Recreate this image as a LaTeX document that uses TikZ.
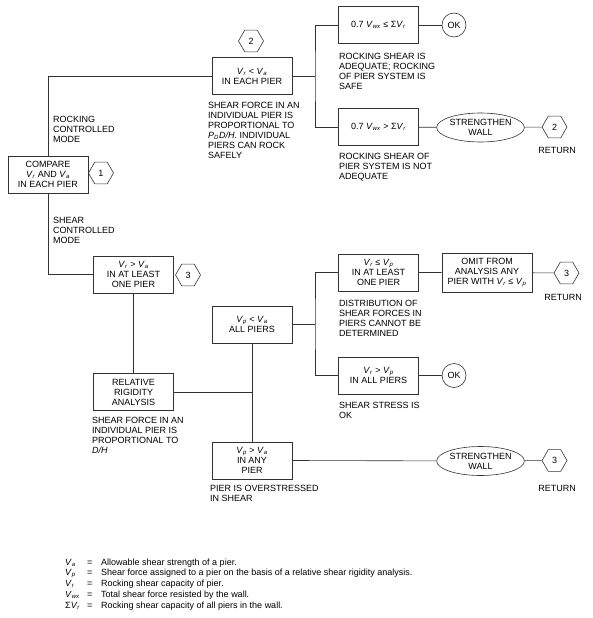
\documentclass[tikz,border=0pt]{standalone}
\usepackage{fontspec}
\setmainfont{Liberation Sans}
\usepackage{tikz}
\usetikzlibrary{shapes.geometric}
\newcommand{\Vs}[1]{\textit{V}\textsubscript{\textit{#1}}}
\begin{document}
\begin{tikzpicture}[x=1pt,y=-1pt,font=\fontsize{9}{10}\selectfont]
				    \tikzstyle{edge}=[draw,line width = .6pt,-,black!80]
				    \tikzstyle{box}=[draw,line width = .6pt,black!80,text=black,rectangle,align=center,minimum width=80pt,minimum height=37pt,inner sep=1pt]
				    \tikzstyle{hexa}=[draw,line width = .6pt,black!80,text=black,regular polygon,regular polygon sides=6,minimum size=25pt,inner sep=0pt]
				    \tikzstyle{endc}=[draw,line width = .6pt,black!80,text=black,circle,minimum size=24pt,inner sep=0pt]
				    \tikzstyle{endo}=[draw,line width = .6pt,black!80,text=black,ellipse,align=center,minimum width=79pt,minimum height=29pt,inner sep=0pt]
				    \tikzstyle{note}=[anchor=north west,align=left,inner sep=0pt]
				    \useasboundingbox (0,0) rectangle (592,618);
				    \node[box] (cmp) at (48,174.5) {COMPARE\\\Vs{r} AND \Vs{a}\\IN EACH PIER};
				    \node[hexa] (h1) at (101,173) {1};
				    \node[note] (rmode) at (53,116) {ROCKING\\CONTROLLED\\MODE};
				    \node[note] (smode) at (53,217) {SHEAR\\CONTROLLED\\MODE};
				    \node[box] (rock) at (252,76) {\Vs{r} < \Vs{a}\\IN EACH PIER};
				    \node[hexa] (h2a) at (251,41) {2};
				    \node[note] (rocknote) at (208,102) {SHEAR FORCE IN AN\\INDIVIDUAL PIER IS\\PROPORTIONAL TO\\\textit{P}\textsubscript{\textit{D}}\textit{D/H}. INDIVIDUAL\\PIERS CAN ROCK\\SAFELY};
				    \coordinate (br1) at (315,76);
				    \node[box] (okbox) at (378.5,25) {0.7 \Vs{wx} ≤ Σ\Vs{r}};
				    \node[endc] (ok1) at (454,25) {OK};
				    \node[note] (oknote) at (339,53) {ROCKING SHEAR IS\\ADEQUATE; ROCKING\\OF PIER SYSTEM IS\\SAFE};
				    \node[box] (nobox) at (378.5,127) {0.7 \Vs{wx} > Σ\Vs{r}};
				    \node[endo] (sw1) at (480.5,127.5) {STRENGTHEN\\WALL};
				    \node[hexa] (h2b) at (554.5,127) {2};
				    \node (ret2) at (557,150) {RETURN};
				    \node[note] (nonote) at (339,153) {ROCKING SHEAR OF\\PIER SYSTEM IS NOT\\ADEQUATE};
				    \node[box] (shear) at (133.5,274.5) {\Vs{r} > \Vs{a}\\IN AT LEAST\\ONE PIER};
				    \node[hexa] (h3a) at (188,275) {3};
				    \node[box] (rel) at (133.5,392) {RELATIVE\\RIGIDITY\\ANALYSIS};
				    \node[note] (relnote) at (92,417) {SHEAR FORCE IN AN\\INDIVIDUAL PIER IS\\PROPORTIONAL TO\\\textit{D/H}};
				    \node[box] (pall) at (252,324.5) {\Vs{p} < \Vs{a}\\ALL PIERS};
				    \node[box] (pany) at (252,460.5) {\Vs{p} > \Vs{a}\\IN ANY\\PIER};
				    \node[note] (panynote) at (210,485) {PIER IS OVERSTRESSED\\IN SHEAR};
				    \coordinate (j) at (252,392);
				    \coordinate (br2) at (315,324.5);
				    \node[box] (rp) at (378.5,272.5) {\Vs{r} ≤ \Vs{p}\\IN AT LEAST\\ONE PIER};
				    \node[box,minimum width=90pt,minimum height=39pt] (omit) at (487,272.5) {OMIT FROM\\ANALYSIS ANY\\PIER WITH \Vs{r} ≤ \Vs{p}};
				    \node[hexa] (h3b) at (566.5,273) {3};
				    \node (ret3a) at (563,297) {RETURN};
				    \node[note] (rpnote) at (339,300) {DISTRIBUTION OF\\SHEAR FORCES IN\\PIERS CANNOT BE\\DETERMINED};
				    \node[box] (rall) at (378.5,375.5) {\Vs{r} > \Vs{p}\\IN ALL PIERS};
				    \node[endc] (ok2) at (454,375.5) {OK};
				    \node[note] (rallnote) at (339,402) {SHEAR STRESS IS\\OK};
				    \node[endo] (sw2) at (480.5,461) {STRENGTHEN\\WALL};
				    \node[hexa] (h3c) at (554.5,460.5) {3};
				    \node (ret3b) at (557,488) {RETURN};
				    \draw[edge] (cmp.north) |- (rock.west);
				    \draw[edge] (cmp.south) |- (shear.west);
				    \draw[edge] (rock.east) -- (br1);
				    \draw[edge] (okbox.west) -| (br1) |- (nobox.west);
				    \draw[edge] (okbox) -- (ok1);
				    \draw[edge] (nobox) -- (sw1) -- (h2b);
				    \draw[edge] (shear) -- (rel);
				    \draw[edge] (rel.east) -- (j);
				    \draw[edge] (pall) -- (pany);
				    \draw[edge] (pall.east) -- (br2);
				    \draw[edge] (rp.west) -| (br2) |- (rall.west);
				    \draw[edge] (rp) -- (omit) -- (h3b);
				    \draw[edge] (rall) -- (ok2);
				    \draw[edge] (pany.east) -- (sw2) -- (h3c);
				    \foreach \sym/\txt [count=\k] in {\Vs{a}/Allowable shear strength of a pier.,\Vs{p}/Shear force assigned to a pier on the basis of a relative shear rigidity analysis.,\Vs{r}/Rocking shear capacity of pier.,\Vs{wx}/Total shear force resisted by the wall.,Σ\Vs{r}/Rocking shear capacity of all piers in the wall.}{
				        \node[anchor=base west,inner sep=0pt] (sym\k) at (65,554.2+10.8*\k) {\sym};
				        \node[anchor=base west,inner sep=0pt] (eq\k) at (87,554.2+10.8*\k) {=};
				        \node[anchor=base west,inner sep=0pt] (def\k) at (101,554.2+10.8*\k) {\txt};
				    }
				\end{tikzpicture}
\end{document}
